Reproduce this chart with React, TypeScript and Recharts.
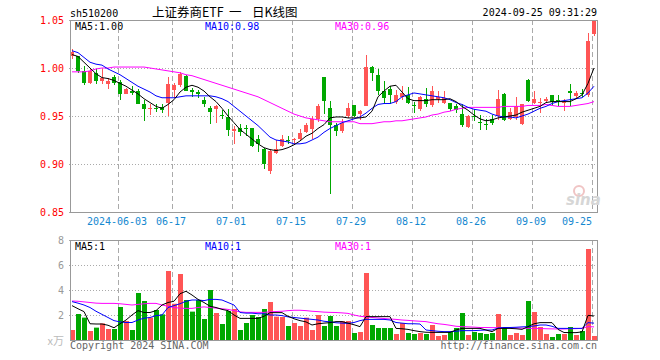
import React from 'react';
import { ComposedChart, Bar, Line, XAxis, YAxis, CartesianGrid, Cell } from 'recharts';

const dates = [
  '2024-05-22','2024-05-23','2024-05-24','2024-05-27','2024-05-28','2024-05-29','2024-05-30','2024-05-31',
  '2024-06-03','2024-06-04','2024-06-05','2024-06-06','2024-06-07','2024-06-11','2024-06-12','2024-06-13','2024-06-14',
  '2024-06-17','2024-06-18','2024-06-19','2024-06-20','2024-06-21','2024-06-24','2024-06-25','2024-06-26','2024-06-27','2024-06-28',
  '2024-07-01','2024-07-02','2024-07-03','2024-07-04','2024-07-05','2024-07-08','2024-07-09','2024-07-10','2024-07-11','2024-07-12',
  '2024-07-15','2024-07-16','2024-07-17','2024-07-18','2024-07-19','2024-07-22','2024-07-23','2024-07-24','2024-07-25','2024-07-26',
  '2024-07-29','2024-07-30','2024-07-31','2024-08-01','2024-08-02','2024-08-05','2024-08-06','2024-08-07','2024-08-08','2024-08-09',
  '2024-08-12','2024-08-13','2024-08-14','2024-08-15','2024-08-16','2024-08-19','2024-08-20','2024-08-21','2024-08-22','2024-08-23',
  '2024-08-26','2024-08-27','2024-08-28','2024-08-29','2024-08-30','2024-09-02','2024-09-03','2024-09-04','2024-09-05','2024-09-06',
  '2024-09-09','2024-09-10','2024-09-11','2024-09-12','2024-09-13','2024-09-18','2024-09-19','2024-09-20','2024-09-23','2024-09-24','2024-09-25',
];

const opens = [
  1.013,1.012,0.997,0.984,0.995,0.986,0.983,0.991,0.985,0.973,
  0.976,0.976,0.963,0.957,0.958,0.959,0.964,0.977,0.982,0.992,
  0.977,0.975,0.967,0.958,0.957,0.951,0.949,0.934,0.937,0.938,
  0.937,0.926,0.916,0.893,0.911,0.919,0.925,0.925,0.926,0.933,
  0.936,0.947,0.991,0.958,0.941,0.934,0.950,0.961,0.952,0.960,
  1.001,0.993,0.976,0.978,0.965,0.970,0.972,0.961,0.957,0.968,
  0.961,0.968,0.964,0.964,0.960,0.952,0.939,0.950,0.944,0.942,
  0.947,0.950,0.973,0.947,0.949,0.942,0.987,0.964,0.964,0.966,
  0.972,0.967,0.964,0.976,0.971,0.974,0.972,1.035,
];
const highs = [
  1.020,1.013,1.002,0.999,0.999,0.999,0.990,0.993,0.988,0.979,
  0.981,0.978,0.967,0.963,0.962,0.962,0.991,0.984,0.996,0.993,
  0.979,0.977,0.970,0.960,0.961,0.956,0.957,0.940,0.942,0.941,
  0.938,0.930,0.917,0.916,0.925,0.930,0.929,0.927,0.936,0.943,
  0.950,0.962,0.991,0.966,0.943,0.947,0.964,0.961,0.956,1.014,
  1.002,0.999,0.986,0.981,0.977,0.981,0.980,0.965,0.971,0.979,
  0.981,0.976,0.976,0.964,0.962,0.962,0.951,0.957,0.951,0.947,
  0.951,0.977,0.974,0.958,0.970,0.963,0.989,0.976,0.969,0.970,
  0.972,0.972,0.968,0.983,0.976,0.978,1.036,1.050,
];
const lows = [
  1.009,0.995,0.982,0.983,0.983,0.983,0.978,0.982,0.967,0.973,
  0.972,0.962,0.945,0.951,0.954,0.953,0.950,0.969,0.980,0.976,
  0.970,0.969,0.959,0.942,0.943,0.947,0.929,0.921,0.929,0.929,
  0.918,0.913,0.895,0.890,0.910,0.918,0.921,0.920,0.925,0.932,
  0.926,0.944,0.952,0.869,0.929,0.932,0.948,0.949,0.946,0.960,
  0.986,0.972,0.962,0.962,0.963,0.967,0.963,0.953,0.955,0.959,
  0.959,0.964,0.962,0.955,0.953,0.939,0.938,0.945,0.935,0.935,
  0.941,0.946,0.945,0.946,0.946,0.941,0.965,0.963,0.953,0.964,
  0.961,0.960,0.955,0.960,0.969,0.970,0.970,1.033,
];
const closes = [
  1.017,0.997,0.984,0.997,0.986,0.990,0.986,0.984,0.973,0.978,
  0.974,0.962,0.957,0.958,0.957,0.956,0.983,0.982,0.994,0.976,
  0.975,0.973,0.962,0.954,0.960,0.950,0.935,0.936,0.933,0.936,
  0.919,0.921,0.900,0.914,0.916,0.926,0.924,0.926,0.932,0.941,
  0.947,0.960,0.966,0.941,0.934,0.943,0.958,0.950,0.955,1.001,
  0.995,0.976,0.969,0.972,0.972,0.974,0.964,0.960,0.970,0.963,
  0.976,0.970,0.969,0.957,0.956,0.941,0.950,0.949,0.943,0.941,
  0.943,0.968,0.946,0.954,0.960,0.962,0.966,0.968,0.965,0.968,
  0.965,0.966,0.965,0.974,0.974,0.973,1.028,1.050,
];

const ma5 = [
  1.014,1.012,1.006,1.000,0.994,0.990,0.989,0.987,0.984,0.981,
  0.977,0.973,0.968,0.964,0.960,0.958,0.962,0.967,0.975,0.980,
  0.982,0.980,0.976,0.970,0.965,0.958,0.950,0.943,0.936,0.931,
  0.926,0.921,0.917,0.915,0.914,0.915,0.917,0.920,0.924,0.929,
  0.932,0.937,0.941,0.948,0.949,0.949,0.948,0.948,0.948,0.949,
  0.955,0.970,0.976,0.981,0.982,0.975,0.968,0.966,0.966,0.966,
  0.967,0.967,0.967,0.968,0.965,0.960,0.956,0.951,0.947,0.945,
  0.946,0.948,0.949,0.950,0.951,0.954,0.956,0.958,0.960,0.964,
  0.965,0.965,0.965,0.965,0.968,0.972,0.984,1.000,
];
const ma10 = [
  1.018,1.016,1.011,1.006,1.004,1.003,0.999,0.996,0.993,0.989,
  0.985,0.981,0.978,0.975,0.971,0.969,0.969,0.969,0.970,0.971,
  0.971,0.971,0.971,0.971,0.970,0.968,0.965,0.960,0.955,0.950,
  0.945,0.940,0.934,0.928,0.925,0.924,0.923,0.921,0.921,0.922,
  0.925,0.928,0.933,0.937,0.940,0.943,0.945,0.947,0.949,0.953,
  0.958,0.962,0.963,0.963,0.965,0.970,0.972,0.974,0.973,0.972,
  0.971,0.970,0.969,0.967,0.964,0.962,0.959,0.957,0.956,0.955,
  0.952,0.950,0.949,0.949,0.948,0.950,0.952,0.955,0.958,0.960,
  0.963,0.965,0.966,0.967,0.968,0.969,0.974,0.981,
];
const ma30 = [
  0.996,0.996,0.996,0.997,0.999,1.000,1.000,1.001,1.001,1.001,
  1.001,1.001,1.001,1.000,0.999,0.998,0.997,0.996,0.995,0.993,
  0.992,0.990,0.988,0.986,0.984,0.982,0.980,0.978,0.976,0.974,
  0.972,0.970,0.967,0.964,0.961,0.958,0.955,0.952,0.950,0.948,
  0.947,0.946,0.945,0.944,0.944,0.944,0.944,0.944,0.942,0.942,
  0.942,0.943,0.944,0.944,0.945,0.945,0.946,0.947,0.948,0.949,
  0.951,0.952,0.954,0.955,0.957,0.958,0.959,0.959,0.959,0.959,
  0.959,0.959,0.960,0.960,0.960,0.960,0.961,0.961,0.961,0.962,
  0.961,0.960,0.960,0.960,0.961,0.962,0.963,0.965,
];

const volumes = [
  0.8,2.08,1.79,0.72,0.99,1.33,0.88,0.88,2.64,1.52,
  0.8,3.76,3.12,1.79,2.4,2.05,5.52,2.9,5.28,3.2,
  2.27,3.2,1.68,4.0,2.16,1.28,2.32,2.48,0.8,1.36,
  2.0,1.84,2.48,3.04,1.87,1.84,1.12,1.36,1.12,1.79,
  0.8,2.0,1.12,1.92,1.12,1.52,1.52,0.56,0.64,5.36,
  1.2,0.96,0.96,0.96,0.48,1.36,0.56,0.48,0.56,0.48,
  1.2,0.32,0.4,0.64,0.96,2.16,0.4,0.64,0.56,0.48,
  0.56,2.08,0.96,0.4,0.56,0.4,3.12,2.24,1.04,0.48,
  0.24,0.48,0.48,1.04,0.4,0.72,7.28,0.32,
];
const volMa5 = [
  2.75,2.5,2.27,1.3,1.28,1.28,1.18,0.98,1.3,1.6,
  2.0,2.35,2.2,2.2,2.35,2.8,3.0,3.1,3.7,3.9,
  3.6,3.25,3.0,2.7,2.6,2.45,2.35,2.0,1.73,1.73,
  1.73,1.73,1.9,2.19,2.19,2.19,1.9,1.7,1.55,1.45,
  1.2,1.3,1.35,1.39,1.47,1.47,1.35,1.22,1.07,1.87,
  1.87,1.87,1.87,1.87,0.93,0.9,0.85,0.75,0.67,0.62,
  0.61,0.61,0.61,0.61,0.8,0.93,0.93,0.93,0.93,0.8,
  0.67,0.93,0.93,0.93,0.9,0.85,1.07,1.3,1.39,1.39,
  1.39,0.85,0.6,0.59,0.59,0.65,1.97,1.92,
];
const volMa10 = [
  3.07,2.95,2.8,2.6,2.3,2.05,1.8,1.55,1.45,1.4,
  1.4,1.6,1.75,1.8,1.95,2.0,2.6,2.75,2.9,3.1,
  3.2,3.2,3.15,3.25,3.25,3.2,3.0,2.8,2.2,2.15,
  2.15,2.1,2.1,2.0,2.0,1.95,1.85,1.8,1.75,1.7,
  1.65,1.6,1.5,1.45,1.38,1.35,1.33,1.4,1.55,1.65,
  1.65,1.65,1.65,1.6,1.4,1.35,1.3,1.3,1.28,0.8,
  0.75,0.7,0.67,0.67,0.7,0.75,0.75,0.75,0.78,0.8,
  0.8,0.95,1.0,1.0,1.02,1.05,1.07,1.12,1.2,1.2,
  1.1,0.93,0.93,0.93,0.93,0.93,1.39,1.35,
];
const volMa30 = [
  3.12,3.1,3.05,3.0,2.95,2.93,2.93,2.93,2.9,2.85,
  2.8,2.85,2.9,2.93,2.93,2.8,2.7,2.6,2.55,2.53,
  2.53,2.6,2.65,2.6,2.55,2.5,2.45,2.35,2.25,2.21,
  2.21,2.21,2.21,2.25,2.28,2.3,2.35,2.38,2.38,2.35,
  2.3,2.27,2.23,2.21,2.2,2.17,2.13,2.0,1.9,1.85,
  1.8,1.76,1.72,1.68,1.65,1.6,1.57,1.53,1.5,1.47,
  1.38,1.3,1.25,1.18,1.1,1.07,1.05,1.03,1.0,1.0,
  0.99,0.99,0.99,0.98,0.96,0.95,0.93,0.93,0.92,0.9,
  0.89,0.88,0.88,0.9,0.91,0.93,1.07,1.05,
];

const dateTicks = ['2024-06-03','2024-06-17','2024-07-01','2024-07-15','2024-07-29','2024-08-12','2024-08-26','2024-09-09','2024-09-25'];
const dateTickLabels = ['2024-06-03','06-17','07-01','07-15','07-29','08-12','08-26','09-09','09-25'];
const priceTicks = [0.85, 0.9, 0.95, 1.0, 1.05];
const volTicks = [2, 4, 6, 8];

const RED = '#ff5555';
const GREEN = '#00a800';
const MONO = '"DejaVu Sans Mono", "Liberation Mono", monospace';
const CJK = '"Noto Sans CJK SC", sans-serif';

const rows = dates.map((d, i) => ({
  date: d,
  open: opens[i],
  high: highs[i],
  low: lows[i],
  close: closes[i],
  ma5: ma5[i],
  ma10: ma10[i],
  ma30: ma30[i],
  vol: volumes[i],
  vma5: volMa5[i],
  vma10: volMa10[i],
  vma30: volMa30[i],
  up: closes[i] >= opens[i],
}));

const Candle = (props: any) => {
  const { x, y, width, height, payload } = props;
  if (x == null || y == null || !payload) return null;
  const { open, close, high, low } = payload;
  const color = close >= open ? RED : GREEN;
  const h = Math.abs(height);
  const top0 = height >= 0 ? y : y + height;
  const k = high > low ? h / (high - low) : 0;
  const bTop = top0 + (high - Math.max(open, close)) * k;
  const bBot = top0 + (high - Math.min(open, close)) * k;
  const cx = Math.round(x + width / 2) + 0.5;
  return (
    <g shapeRendering="crispEdges">
      <line x1={cx} x2={cx} y1={top0} y2={top0 + h} stroke={color} strokeWidth={1} />
      <rect x={x} y={bTop} width={width} height={Math.max(1, bBot - bTop)} fill={color} />
    </g>
  );
};

const DateTick = (props: any) => {
  const { x, y, payload } = props;
  const idx = dateTicks.indexOf(payload.value);
  if (idx < 0) return null;
  const last = idx === dateTicks.length - 1;
  return (
    <text
      x={last ? x - 2 : x - 3}
      y={y + 13}
      textAnchor={last ? 'end' : 'middle'}
      fill="#1588d0"
      fontSize={10}
      fontFamily={MONO}
    >
      {dateTickLabels[idx]}
    </text>
  );
};

const vLine = (p: any) => (
  <line
    key={p.key}
    x1={p.x1 - 2}
    x2={p.x2 - 2}
    y1={p.y1}
    y2={p.y2}
    stroke="#aaaaaa"
    strokeDasharray="5 3"
    shapeRendering="crispEdges"
  />
);
const hLine = (p: any) => (
  <line
    key={p.key}
    x1={p.x1}
    x2={p.x2}
    y1={p.y1}
    y2={p.y2}
    stroke="#aaaaaa"
    strokeDasharray="1 2"
    shapeRendering="crispEdges"
  />
);

export default function App() {
  return (
    <div style={{ position: 'absolute', left: 0, top: 0, width: 660, height: 360, background: '#fff', overflow: 'hidden' }}>
      <div style={{ position: 'absolute', left: 0, top: 0 }}>
        <ComposedChart width={660} height={230} data={rows} margin={{ top: 20, right: 63, bottom: 0, left: 0 }}>
          <CartesianGrid vertical={vLine} horizontal={hLine} syncWithTicks />
          <XAxis
            dataKey="date"
            ticks={dateTicks}
            interval={0}
            tick={<DateTick />}
            tickLine={false}
            axisLine={false}
            tickSize={0}
            tickMargin={0}
            height={18}
          />
          <YAxis
            type="number"
            domain={[0.85, 1.05]}
            ticks={priceTicks}
            interval={0}
            allowDataOverflow
            width={69}
            tickLine={false}
            axisLine={false}
            tickSize={0}
            tickMargin={5}
            tickFormatter={(v: number) => v.toFixed(2)}
            tick={{ fill: '#ff0000', fontSize: 10, fontFamily: MONO }}
          />
          <Bar dataKey={(d: any) => [d.low, d.high]} barSize={4} shape={<Candle />} isAnimationActive={false} />
          <Line dataKey="ma30" stroke="#ff00ff" strokeWidth={1} dot={false} activeDot={false} isAnimationActive={false} />
          <Line dataKey="ma10" stroke="#0000ff" strokeWidth={1} dot={false} activeDot={false} isAnimationActive={false} />
          <Line dataKey="ma5" stroke="#000000" strokeWidth={1} dot={false} activeDot={false} isAnimationActive={false} />
        </ComposedChart>
      </div>
      <div style={{ position: 'absolute', left: 0, top: 230 }}>
        <ComposedChart width={660} height={130} data={rows} margin={{ top: 10, right: 63, bottom: 20, left: 0 }}>
          <CartesianGrid vertical={vLine} horizontal={hLine} syncWithTicks />
          <XAxis dataKey="date" ticks={dateTicks} interval={0} hide height={0} />
          <YAxis
            type="number"
            domain={[0, 8]}
            ticks={volTicks}
            interval={0}
            width={69}
            tickLine={false}
            axisLine={false}
            tickSize={0}
            tickMargin={5}
            tick={{ fill: '#999999', fontSize: 10, fontFamily: MONO }}
          />
          <Bar dataKey="vol" barSize={5} isAnimationActive={false}>
            {rows.map((r, i) => (
              <Cell key={i} fill={r.up ? RED : GREEN} />
            ))}
          </Bar>
          <Line dataKey="vma30" stroke="#ff00ff" strokeWidth={1} dot={false} activeDot={false} isAnimationActive={false} />
          <Line dataKey="vma10" stroke="#0000ff" strokeWidth={1} dot={false} activeDot={false} isAnimationActive={false} />
          <Line dataKey="vma5" stroke="#000000" strokeWidth={1} dot={false} activeDot={false} isAnimationActive={false} />
        </ComposedChart>
      </div>
      <svg width={660} height={360} style={{ position: 'absolute', left: 0, top: 0, pointerEvents: 'none' }}>
        <rect x={70.5} y={20.5} width={527} height={192} fill="none" stroke="#999999" />
        <rect x={70.5} y={240.5} width={527} height={100} fill="none" stroke="#999999" />
        <text x={70} y={17} fontSize={10} fontFamily={MONO} fill="#000">sh510200</text>
        <text x={152} y={17} fontSize={12.5} fontFamily={CJK} fill="#000">上证券商ETF</text>
        <text x={229} y={17} fontSize={12.5} fontFamily={CJK} fill="#000">一</text>
        <text x={252} y={17} fontSize={12.5} fontFamily={CJK} fill="#000">日K线图</text>
        <text x={597} y={16} fontSize={10} fontFamily={MONO} fill="#000" textAnchor="end">2024-09-25 09:31:29</text>
        <text x={75} y={30} fontSize={10} fontFamily={MONO} fill="#000">MA5:1.00</text>
        <text x={205} y={30} fontSize={10} fontFamily={MONO} fill="#0000ff">MA10:0.98</text>
        <text x={335} y={30} fontSize={10} fontFamily={MONO} fill="#ff00ff">MA30:0.96</text>
        <text x={75} y={250} fontSize={10} fontFamily={MONO} fill="#000">MA5:1</text>
        <text x={205} y={250} fontSize={10} fontFamily={MONO} fill="#0000ff">MA10:1</text>
        <text x={335} y={250} fontSize={10} fontFamily={MONO} fill="#ff00ff">MA30:1</text>
        <text x={64} y={345} fontSize={11} fontFamily={CJK} fill="#bbbbbb" textAnchor="end">x万</text>
        <text x={70} y={349} fontSize={10} fontFamily={MONO} fill="#666666">Copyright 2024 SINA.COM</text>
        <text x={597} y={349} fontSize={10} fontFamily={MONO} fill="#666666" textAnchor="end">http://finance.sina.com.cn</text>
        <circle cx={579} cy={191} r={5} fill="none" stroke="#f0c4c4" strokeWidth={2} />
        <text x={566} y={205} fontSize={15} fontStyle="italic" fontWeight="bold" fontFamily="DejaVu Sans" fill="#d6d6d6">sina</text>
      </svg>
    </div>
  );
}
